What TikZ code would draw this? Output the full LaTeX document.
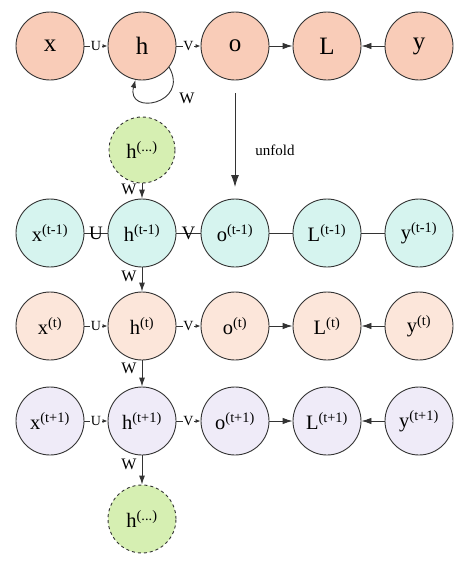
\documentclass[tikz,border=0pt]{standalone}
\usepackage{fontspec}
\setmainfont{Liberation Serif}
\usetikzlibrary{arrows.meta}
\definecolor{rowa}{HTML}{F9CCB8}
\definecolor{rowb}{HTML}{D6F4EF}
\definecolor{rowc}{HTML}{FCE6DA}
\definecolor{rowd}{HTML}{EFEBF8}
\definecolor{greenh}{HTML}{D6EFB2}
\definecolor{edge}{HTML}{333333}
\begin{document}
\begin{tikzpicture}[x=1pt,y=-1pt,
  nd/.style={circle,draw=edge,line width=0.9pt,minimum size=68pt,inner sep=0pt,font=\fontsize{20.5}{20.5}\selectfont},
  big/.style={font=\fontsize{25}{25}\selectfont},
  ln/.style={line width=0.9pt,draw=edge},
  arr/.style={ln,-{Latex[length=10pt,width=6.5pt]}},
  sarr/.style={ln,-{Latex[length=5pt,width=4pt]}},
  lab/.style={font=\fontsize{14}{14}\selectfont,fill=white,inner sep=0.6pt},
  blab/.style={font=\fontsize{19}{19}\selectfont,inner sep=0pt},
  wlab/.style={font=\fontsize{16}{16}\selectfont,inner sep=0pt}]
\useasboundingbox (0,0) rectangle (474,573);
% row 1
\node[nd,big,fill=rowa] (x0) at (50,46) {x};
\node[nd,big,fill=rowa] (h0) at (142,46) {h};
\node[nd,big,fill=rowa] (o0) at (235,46) {o};
\node[nd,big,fill=rowa] (L0) at (327,46) {L};
\node[nd,big,fill=rowa] (y0) at (419,46) {y};
\draw[sarr] (x0) -- node[lab]{U} (h0);
\draw[sarr] (h0) -- node[lab]{V} (o0);
\draw[arr] (o0) -- (L0);
\draw[arr] (y0) -- (L0);
\draw[ln,-{Latex[length=8pt,width=5.5pt]}] (h0.-38) .. controls (190,104) and (126,116) .. (h0.-101);
\node[wlab] (w0) at (187,98) {W};
% unfold
\coordinate (u1) at (235,93);
\coordinate (u2) at (235,187);
\draw[ln,-{Latex[length=12pt,width=8pt]}] (u1) -- (u2);
\node[font=\fontsize{15}{15}\selectfont] (uf) at (275,150) {unfold};
% green top
\node[nd,fill=greenh,dashed,minimum size=66pt] (g1) at (142,150) {h\textsuperscript{(...)}};
% row t-1
\node[nd,fill=rowb] (x1) at (50,233) {x\textsuperscript{(t-1)}};
\node[nd,fill=rowb] (h1) at (142,233) {h\textsuperscript{(t-1)}};
\node[nd,fill=rowb] (o1) at (235,233) {o\textsuperscript{(t-1)}};
\node[nd,fill=rowb] (L1) at (327,233) {L\textsuperscript{(t-1)}};
\node[nd,fill=rowb] (y1) at (419,233) {y\textsuperscript{(t-1)}};
\draw[ln] (x1) -- node[blab]{U} (h1);
\draw[ln] (h1) -- node[blab]{V} (o1);
\draw[ln] (o1) -- (L1);
\draw[ln] (L1) -- (y1);
\draw[ln,-{Latex[length=9pt,width=6pt]}] (g1) -- node[wlab,left=5pt,pos=0.4]{W} (h1);
% row t
\node[nd,fill=rowc] (x2) at (50,326) {x\textsuperscript{(t)}};
\node[nd,fill=rowc] (h2) at (142,326) {h\textsuperscript{(t)}};
\node[nd,fill=rowc] (o2) at (235,326) {o\textsuperscript{(t)}};
\node[nd,fill=rowc] (L2) at (327,326) {L\textsuperscript{(t)}};
\node[nd,fill=rowc] (y2) at (419,326) {y\textsuperscript{(t)}};
\draw[sarr] (x2) -- node[lab]{U} (h2);
\draw[sarr] (h2) -- node[lab]{V} (o2);
\draw[arr] (o2) -- (L2);
\draw[arr] (y2) -- (L2);
\draw[ln,-{Latex[length=9pt,width=6pt]}] (h1) -- node[wlab,left=5pt,pos=0.35]{W} (h2);
% row t+1
\node[nd,fill=rowd] (x3) at (50,421) {x\textsuperscript{(t+1)}};
\node[nd,fill=rowd] (h3) at (142,421) {h\textsuperscript{(t+1)}};
\node[nd,fill=rowd] (o3) at (235,421) {o\textsuperscript{(t+1)}};
\node[nd,fill=rowd] (L3) at (327,421) {L\textsuperscript{(t+1)}};
\node[nd,fill=rowd] (y3) at (419,421) {y\textsuperscript{(t+1)}};
\draw[sarr] (x3) -- node[lab]{U} (h3);
\draw[sarr] (h3) -- node[lab]{V} (o3);
\draw[arr] (o3) -- (L3);
\draw[arr] (y3) -- (L3);
\draw[ln,-{Latex[length=9pt,width=6pt]}] (h2) -- node[wlab,left=5pt,pos=0.3]{W} (h3);
% green bottom
\node[nd,fill=greenh,dashed] (g2) at (142,519) {h\textsuperscript{(...)}};
\draw[ln,-{Latex[length=9pt,width=6pt]}] (h3) -- node[wlab,left=5pt,pos=0.3]{W} (g2);
\end{tikzpicture}
\end{document}
